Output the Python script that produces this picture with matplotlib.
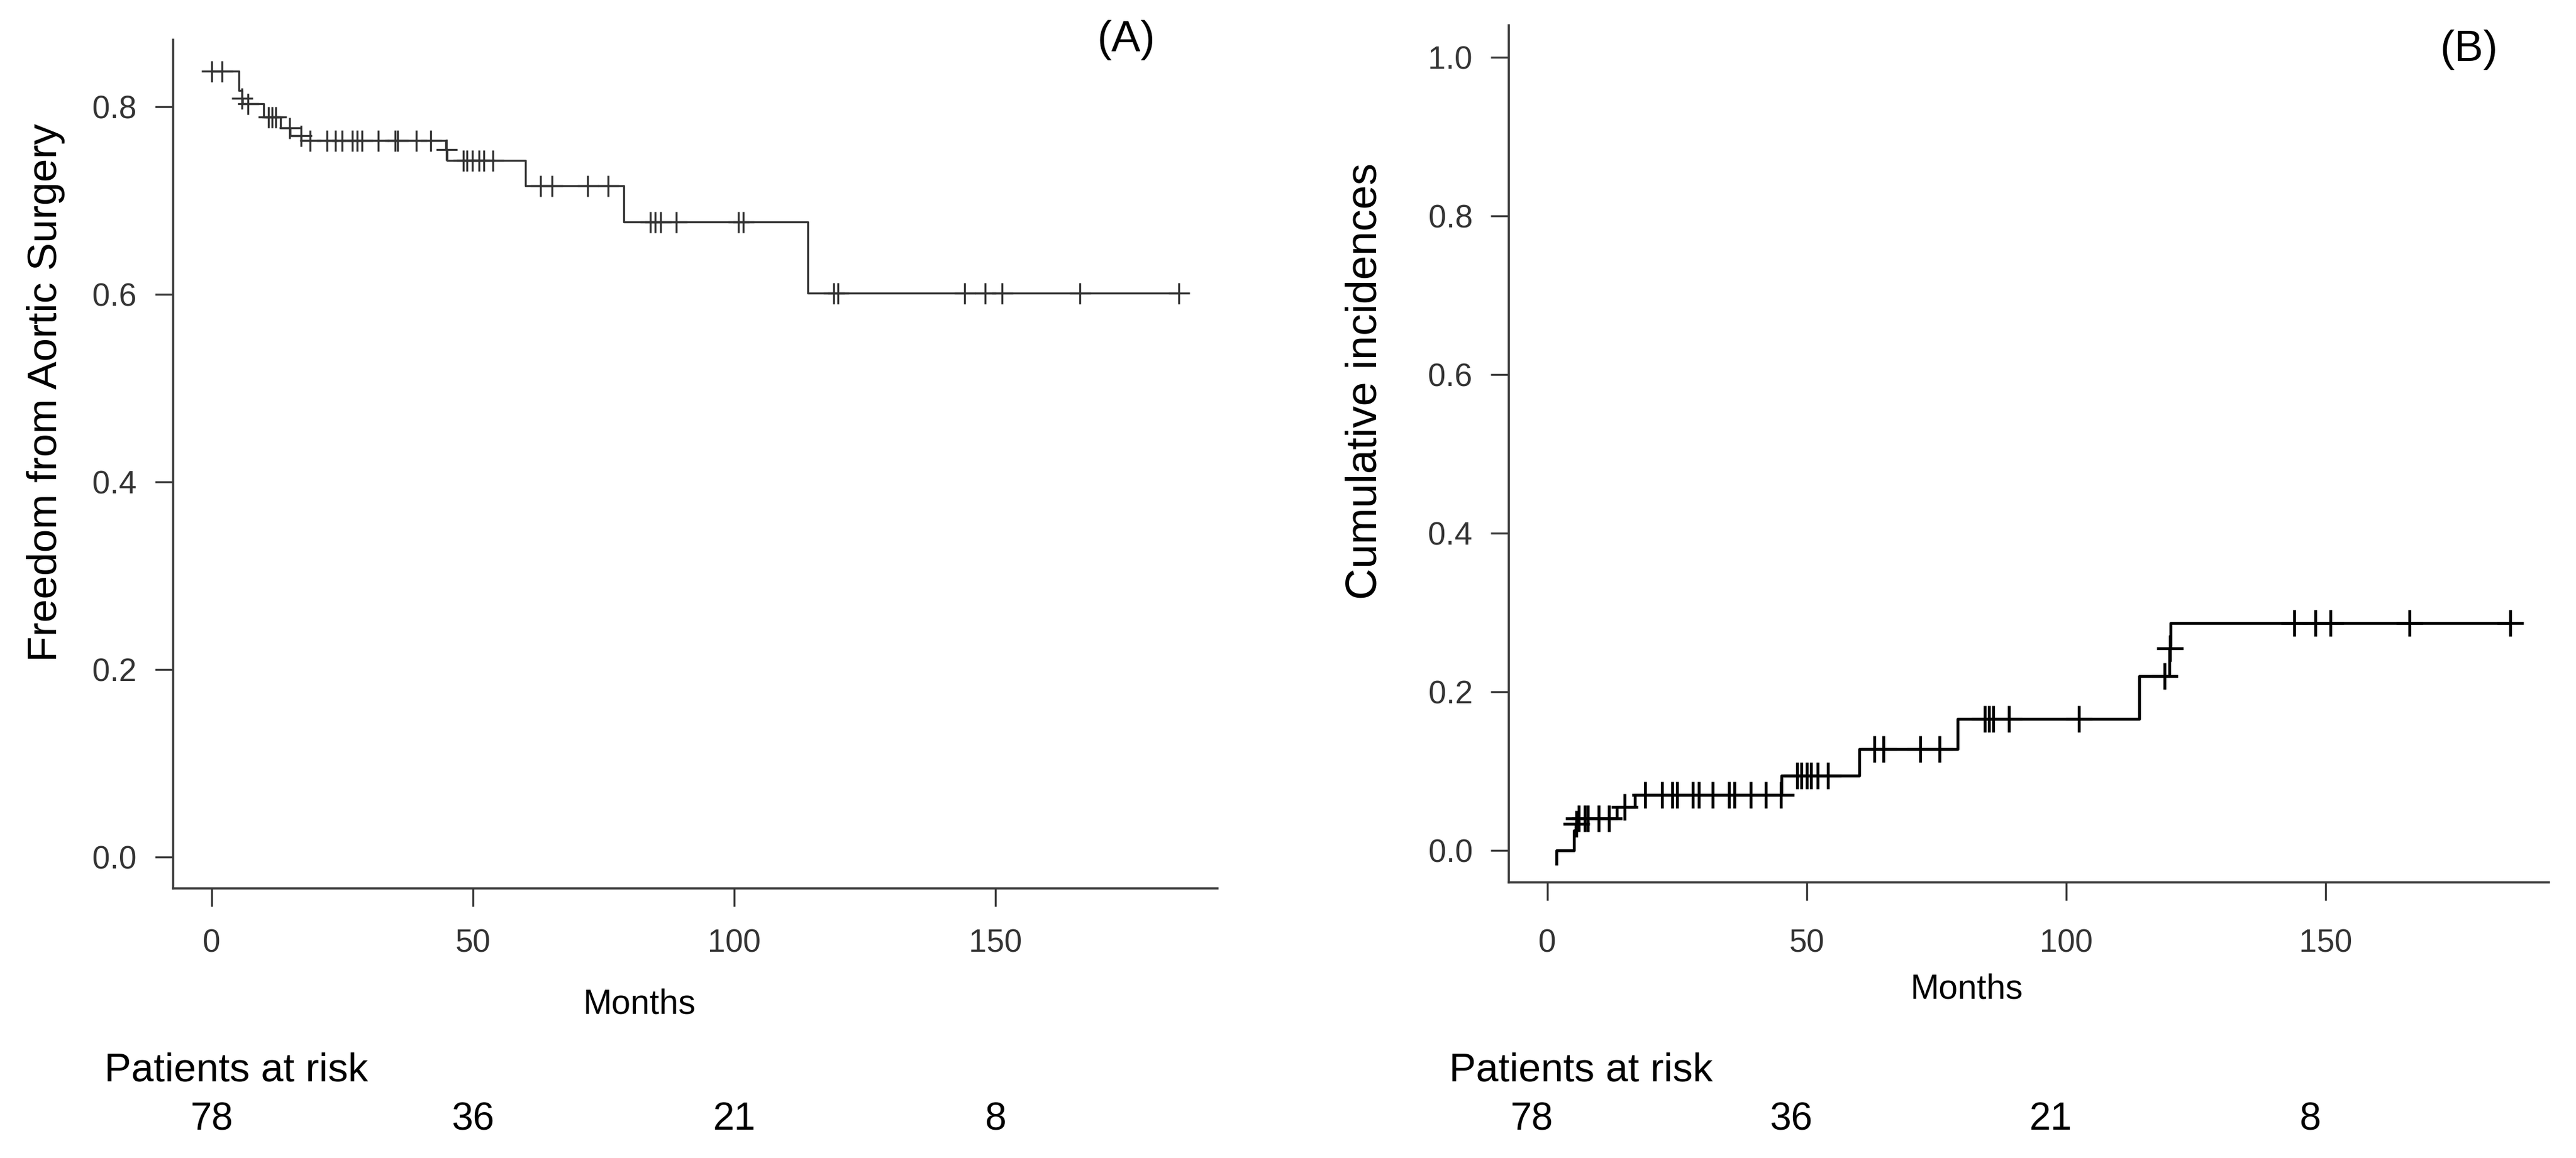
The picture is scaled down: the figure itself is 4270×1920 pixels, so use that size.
import numpy as np
import matplotlib
matplotlib.use('Agg')
import matplotlib.pyplot as plt
import matplotlib.transforms as mtransforms

plt.rcParams['font.family'] = ['Liberation Sans', 'DejaVu Sans']

# Panel A: freedom from aortic surgery (step curve + censor marks)
a_times = [0, 5.17, 5.8, 5.9, 9.96, 13.2, 15.0, 17.1, 44.8, 45.0, 60.0, 78.9, 114.1, 185.1]
a_levels = [0.8377, 0.8174, 0.8088, 0.8034, 0.7889, 0.7777, 0.7691, 0.7638,
            0.7541, 0.7428, 0.7155, 0.6770, 0.6016, 0.6016]
a_censor = [0, 1.92, 5.82, 6.9, 10.9, 11.6, 12.2, 14.9, 17.05, 18.8, 22.0, 23.7, 24.9,
            26.9, 27.8, 28.8, 31.9, 35.1, 35.6, 39.1, 41.95, 44.9, 48.2, 48.9, 49.9,
            51.1, 52.1, 53.8, 62.9, 65.1, 71.9, 75.9, 83.9, 84.9, 85.9, 88.9, 100.8,
            101.7, 119.0, 119.9, 144.1, 148.0, 151.3, 166.2, 185.1]

# Panel B: cumulative incidence
b_times = [1.74, 1.74, 5.15, 5.5, 5.7, 13.4, 16.9, 45.1, 60.1, 79.1, 114.1, 119.9, 120.1, 185.6]
b_levels = [-0.0165, 0.0, 0.0253, 0.0335, 0.040, 0.0545, 0.0702, 0.0943, 0.1275,
            0.166, 0.220, 0.255, 0.2865, 0.2865]
b_censor = [5.55, 6.0, 7.2, 7.75, 9.9, 11.9, 14.9, 18.8, 22.1, 24.1, 25.0, 28.0, 29.2,
            31.9, 35.0, 36.0, 39.2, 42.1, 45.0, 48.1, 49.0, 50.0, 50.8, 52.1, 54.1,
            63.0, 64.8, 71.9, 75.6, 84.3, 85.1, 85.9, 88.9, 102.4, 118.9, 120.0,
            144.0, 148.0, 150.9, 166.2, 185.6]

risk_times = [0, 50, 100, 150]
risk_counts = [78, 36, 21, 8]
x_ticks = [0, 50, 100, 150]
a_yticks = [0.0, 0.2, 0.4, 0.6, 0.8]
b_yticks = [0.0, 0.2, 0.4, 0.6, 0.8, 1.0]


def level_at(times, levels, t):
    idx = np.searchsorted(times, t, side='right') - 1
    return np.asarray(levels)[idx]


def style_axes(ax, yticks, xlim, ylim, xpad):
    ax.set_xlim(xlim)
    ax.set_ylim(ylim)
    for s in ['top', 'right']:
        ax.spines[s].set_visible(False)
    for s in ['left', 'bottom']:
        ax.spines[s].set_color('#3a3a3a')
        ax.spines[s].set_linewidth(1.3)
    ax.set_xticks(x_ticks)
    ax.set_xticklabels([str(v) for v in x_ticks])
    ax.set_yticks(yticks)
    ax.set_yticklabels([f'{v:.1f}' for v in yticks])
    ax.tick_params(axis='both', direction='out', length=10.8, width=1.2,
                   color='#3a3a3a', labelcolor='#333333', labelsize=19)
    ax.tick_params(axis='x', pad=xpad)
    ax.tick_params(axis='y', pad=11)


fig = plt.figure(figsize=(21.35, 9.6), dpi=200)

# ---- (A)
ax1 = fig.add_axes([0.0672, 0.2326, 0.4054, 0.7329])
ax1.step(a_times, a_levels, where='post', color='#333333', linewidth=1.2)
ax1.plot(a_censor, level_at(a_times, a_levels, a_censor), linestyle='none',
         marker='+', markersize=12.6, markeredgewidth=1.2, color='#333333')
style_axes(ax1, a_yticks, (-7.4, 192.5), (-0.0335, 0.8712), 13)

fig.text(0.0178, 0.661, 'Freedom from Aortic Surgery', rotation=90,
         ha='center', va='center', fontsize=25)
fig.text(0.2482, 0.1323, 'Months', ha='center', va='center', fontsize=20.5)
fig.text(0.4372, 0.9557, '(A)', ha='center', va='baseline', fontsize=26)
fig.text(0.0404, 0.0755, 'Patients at risk', ha='left', va='center', fontsize=24)
trans1 = mtransforms.blended_transform_factory(ax1.transData, fig.transFigure)
for t, n in zip(risk_times, risk_counts):
    ax1.text(t, 0.0333, str(n), transform=trans1, ha='center', va='center',
             fontsize=23, clip_on=False)

# ---- (B)
ax2 = fig.add_axes([0.5858, 0.2382, 0.4036, 0.7397])
ax2.step(b_times, b_levels, where='post', color='black', linewidth=1.7)
ax2.plot(b_censor, level_at(b_times, b_levels, b_censor), linestyle='none',
         marker='+', markersize=15.5, markeredgewidth=1.7, color='black')
style_axes(ax2, b_yticks, (-7.4, 193.0), (-0.04, 1.04), 17)

fig.text(0.530, 0.671, 'Cumulative incidences', rotation=90,
         ha='center', va='center', fontsize=26)
fig.text(0.7633, 0.1458, 'Months', ha='center', va='center', fontsize=20.5)
fig.text(0.9585, 0.9474, '(B)', ha='center', va='baseline', fontsize=26)
fig.text(0.5625, 0.0755, 'Patients at risk', ha='left', va='center', fontsize=24)
trans2 = mtransforms.blended_transform_factory(ax2.transData, fig.transFigure)
shift = mtransforms.ScaledTranslation(-0.13, 0, fig.dpi_scale_trans)
for t, n in zip(risk_times, risk_counts):
    ax2.text(t, 0.0333, str(n), transform=trans2 + shift, ha='center', va='center',
             fontsize=23, clip_on=False)

fig.savefig('out.png', dpi=200, facecolor='white')
